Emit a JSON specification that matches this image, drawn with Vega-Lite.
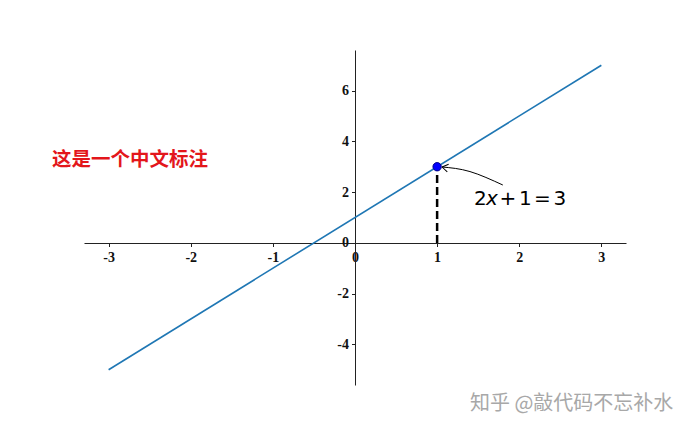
{
  "$schema": "https://vega.github.io/schema/vega-lite/v6.json",
  "width": 542,
  "height": 335,
  "autosize": "none",
  "padding": {"left": 84, "top": 50, "right": 70, "bottom": 46},
  "background": "white",
  "config": {"view": {"stroke": null}},
  "datasets": {
    "line": [{"x": -3, "y": -5}, {"x": 3, "y": 7}],
    "pt": [{"x": 1, "y": 3, "y0": 0}],
    "arrow": [{"x": 1.80, "y": 2.28}, {"x": 1.40, "y": 2.81}, {"x": 1.06, "y": 2.99}],
    "tip": [{"x": 1.06, "y": 2.99}],
    "eq": [
      {"x": 1.528, "y": 1.5, "t": "2"},
      {"x": 1.863, "y": 1.5, "t": "+"},
      {"x": 2.076, "y": 1.5, "t": "1"},
      {"x": 2.283, "y": 1.5, "t": "="},
      {"x": 2.496, "y": 1.5, "t": "3"}
    ],
    "eqx": [{"x": 1.668, "y": 1.5, "t": "x"}],
    "note": [{"x": -3.69, "y": 3.27, "t": "这是一个中文标注"}],
    "mark": [{"x": 1.40, "y": -6.35, "t": "知乎 @敲代码不忘补水"}]
  },
  "layer": [
    {
      "data": {"name": "line"},
      "mark": {"type": "line", "color": "#1f77b4", "strokeWidth": 1.6, "clip": false},
      "encoding": {
        "x": {
          "field": "x", "type": "quantitative",
          "scale": {"domain": [-3.3, 3.3], "nice": false, "zero": false},
          "axis": {
            "orient": "bottom", "offset": -142, "values": [-3, -2, -1, 0, 1, 2, 3],
            "labelExpr": "'' + datum.value",
            "title": null, "grid": false, "labelFont": "Liberation Serif",
            "labelFontWeight": "bold", "labelFontSize": 14, "labelColor": "#111",
            "tickColor": "#222", "domainColor": "#222", "tickSize": 3.5,
            "labelPadding": 4, "labelFlush": false, "labelOverlap": false
          }
        },
        "y": {
          "field": "y", "type": "quantitative",
          "scale": {"domain": [-5.6, 7.6], "nice": false, "zero": false},
          "axis": {
            "orient": "left", "offset": -271, "values": [-4, -2, 0, 2, 4, 6],
            "labelExpr": "'' + datum.value",
            "title": null, "grid": false, "labelFont": "Liberation Serif",
            "labelFontWeight": "bold", "labelFontSize": 14, "labelColor": "#111",
            "tickColor": "#222", "domainColor": "#222", "tickSize": 3.5,
            "labelPadding": 3, "labelFlush": false, "labelOverlap": false
          }
        }
      }
    },
    {
      "data": {"name": "pt"},
      "mark": {"type": "rule", "color": "black", "strokeWidth": 2.5, "strokeDash": [8, 4]},
      "encoding": {
        "x": {"field": "x", "type": "quantitative"},
        "y": {"field": "y0", "type": "quantitative"},
        "y2": {"field": "y"}
      }
    },
    {
      "data": {"name": "pt"},
      "mark": {"type": "point", "filled": true, "fill": "#0000ff", "stroke": "#00008b", "strokeWidth": 1, "size": 70, "opacity": 1},
      "encoding": {
        "x": {"field": "x", "type": "quantitative"},
        "y": {"field": "y", "type": "quantitative"}
      }
    },
    {
      "data": {"name": "arrow"},
      "mark": {"type": "line", "color": "black", "strokeWidth": 1, "interpolate": "natural"},
      "encoding": {
        "x": {"field": "x", "type": "quantitative"},
        "y": {"field": "y", "type": "quantitative"}
      }
    },
    {
      "data": {"name": "tip"},
      "mark": {"type": "point", "shape": "M0,0L1,-0.65M0,0L1,0.65", "filled": false, "stroke": "black", "strokeWidth": 1, "size": 144, "angle": 10, "opacity": 1},
      "encoding": {
        "x": {"field": "x", "type": "quantitative"},
        "y": {"field": "y", "type": "quantitative"}
      }
    },
    {
      "data": {"name": "eq"},
      "mark": {"type": "text", "font": "DejaVu Sans", "fontSize": 20, "align": "center", "baseline": "alphabetic", "color": "black"},
      "encoding": {
        "x": {"field": "x", "type": "quantitative"},
        "y": {"field": "y", "type": "quantitative"},
        "text": {"field": "t"}
      }
    },
    {
      "data": {"name": "eqx"},
      "mark": {"type": "text", "font": "DejaVu Sans", "fontStyle": "italic", "fontSize": 20, "align": "center", "baseline": "alphabetic", "color": "black"},
      "encoding": {
        "x": {"field": "x", "type": "quantitative"},
        "y": {"field": "y", "type": "quantitative"},
        "text": {"field": "t"}
      }
    },
    {
      "data": {"name": "note"},
      "mark": {"type": "text", "font": "Noto Sans CJK SC", "fontWeight": "bold", "fontSize": 19.5, "align": "left", "baseline": "middle", "color": "#e3161b"},
      "encoding": {
        "x": {"field": "x", "type": "quantitative"},
        "y": {"field": "y", "type": "quantitative"},
        "text": {"field": "t"}
      }
    },
    {
      "data": {"name": "mark"},
      "mark": {"type": "text", "font": "Noto Sans CJK SC", "fontSize": 20, "align": "left", "baseline": "middle", "color": "#a8a8a8"},
      "encoding": {
        "x": {"field": "x", "type": "quantitative"},
        "y": {"field": "y", "type": "quantitative"},
        "text": {"field": "t"}
      }
    }
  ]
}
